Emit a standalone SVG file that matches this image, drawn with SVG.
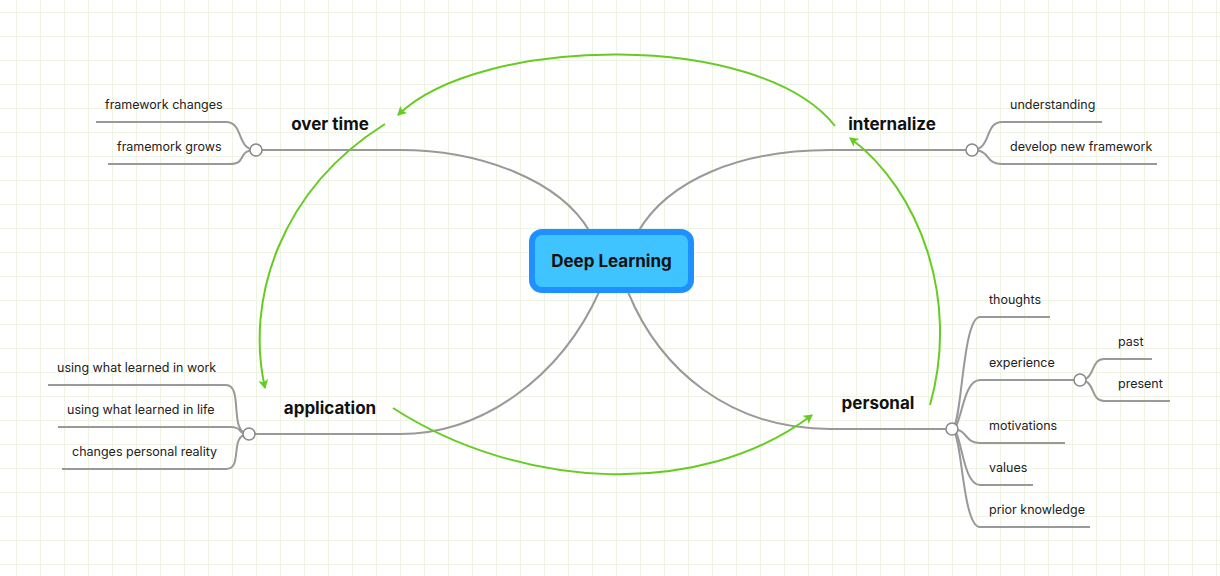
<svg xmlns="http://www.w3.org/2000/svg" width="1220" height="576" viewBox="0 0 1220 576">
<defs>
<pattern id="grid" x="16" y="12" width="24" height="24" patternUnits="userSpaceOnUse">
<path d="M0,0 H24 M0,0 V24" fill="none" stroke="#eef3e4" stroke-width="2"/>
</pattern>
<marker id="ar" viewBox="0 0 10 10" refX="8" refY="5" markerWidth="10" markerHeight="10" orient="auto" markerUnits="userSpaceOnUse">
<path d="M0,0 L9,5 L0,10 L2,5 Z" fill="#66cc22"/>
</marker>
<style>
.c{fill:none;stroke:#999;stroke-width:2}
.g{fill:none;stroke:#66cc22;stroke-width:2}
.k{fill:#fff;stroke:#888;stroke-width:1.5}
.b{font-family:Inter,"Noto Sans",sans-serif;font-weight:bold;font-size:17px;fill:#111}
.l{font-family:Inter,"Noto Sans",sans-serif;font-size:12.5px;fill:#222}
</style>
</defs>
<rect width="1220" height="576" fill="#fff"/>
<rect width="1220" height="576" fill="url(#grid)"/>
<g id="connectors">
<path class="c" d="M590,232 C560,180 480,150 400,150 L256,150"/>
<path class="c" d="M256,150 C236,150 244,122 226,122 L96,122"/>
<path class="c" d="M256,150 C236,150 248,164 230,164 L108,164"/>
<path class="c" d="M638,232 C668,180 740,150 830,150 L972,150"/>
<path class="c" d="M972,150 C992,150 984,122 1002,122 L1102,122"/>
<path class="c" d="M972,150 C992,150 984,164 1002,164 L1157,164"/>
<path class="c" d="M600,290 C560,380 480,434 400,434 L249,434"/>
<path class="c" d="M249,434 C228,434 244,385 226,385 L48,385"/>
<path class="c" d="M249,434 C236,434 244,427 230,427 L58,427"/>
<path class="c" d="M249,434 C228,434 244,469 226,469 L62,469"/>
<path class="c" d="M628,292 C660,370 730,429 830,429 L952,429"/>
<path class="c" d="M952,429 C962,429 962,317 980,317 L1050,317"/>
<path class="c" d="M952,429 C962,429 962,380 980,380 L1080,380"/>
<path class="c" d="M1080,380 C1096,380 1090,359 1104,359 L1152,359"/>
<path class="c" d="M1080,380 C1096,380 1090,401 1104,401 L1170,401"/>
<path class="c" d="M952,429 C968,429 964,443 980,443 L1065,443"/>
<path class="c" d="M952,429 C962,429 962,485 980,485 L1033,485"/>
<path class="c" d="M952,429 C962,429 962,527 980,527 L1090,527"/>
<path class="g" marker-end="url(#ar)" d="M835,126 C760,30 480,35 398,115"/>
<path class="g" marker-end="url(#ar)" d="M385,124 C280,190 245,300 265,388"/>
<path class="g" marker-end="url(#ar)" d="M393,408 C520,490 700,500 812,415"/>
<path class="g" marker-end="url(#ar)" d="M930,405 C960,300 920,190 850,138"/>
<circle class="k" cx="256" cy="150" r="6"/>
<circle class="k" cx="972" cy="150" r="6"/>
<circle class="k" cx="249" cy="434" r="6"/>
<circle class="k" cx="952" cy="429" r="6"/>
<circle class="k" cx="1080" cy="380" r="6"/>
</g>
<g id="center">
<rect x="532" y="232" width="159" height="58" rx="10" fill="#40c4ff" stroke="#1e90ff" stroke-width="6"/>
<text class="b" x="611.5" y="267" text-anchor="middle">Deep Learning</text>
</g>
<g id="over-time"><text class="b" x="330" y="130" text-anchor="middle">over time</text></g>
<g id="internalize"><text class="b" x="892" y="130" text-anchor="middle">internalize</text></g>
<g id="application"><text class="b" x="330" y="414" text-anchor="middle">application</text></g>
<g id="personal"><text class="b" x="878" y="409" text-anchor="middle">personal</text></g>
<g id="leaves">
<text class="l" x="105" y="109">framework changes</text>
<text class="l" x="117" y="151">framemork grows</text>
<text class="l" x="1010" y="109">understanding</text>
<text class="l" x="1010" y="151">develop new framework</text>
<text class="l" x="57" y="372">using what learned in work</text>
<text class="l" x="67" y="414">using what learned in life</text>
<text class="l" x="72" y="456">changes personal reality</text>
<text class="l" x="989" y="304">thoughts</text>
<text class="l" x="989" y="367">experience</text>
<text class="l" x="1118" y="346">past</text>
<text class="l" x="1118" y="388">present</text>
<text class="l" x="989" y="430">motivations</text>
<text class="l" x="989" y="472">values</text>
<text class="l" x="989" y="514">prior knowledge</text>
</g>
</svg>
